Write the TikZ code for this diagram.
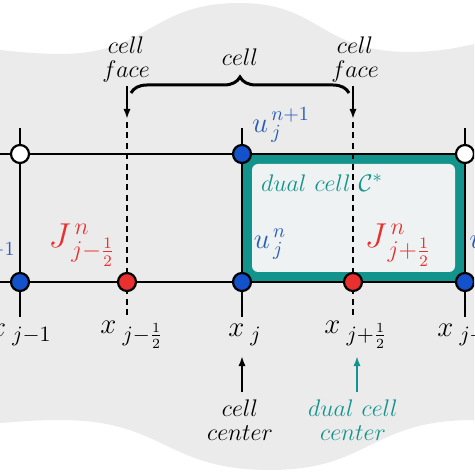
\documentclass[tikz,border=0pt]{standalone}
\usetikzlibrary{decorations.pathreplacing,arrows.meta}
\definecolor{bgc}{HTML}{EBEBEB}
\definecolor{innerc}{HTML}{EEF2F2}
\definecolor{tealc}{HTML}{12948C}
\definecolor{dotblue}{HTML}{1452CC}
\definecolor{lblblue}{HTML}{2A5CB8}
\definecolor{redc}{HTML}{E8302F}
\begin{document}
\begin{tikzpicture}[x=0.5pt,y=-0.5pt,
  gridline/.style={line width=1.3pt,black},
  facedash/.style={line width=1.3pt,black,dash pattern=on 3pt off 2.2pt},
  dot/.style={circle,draw=black,line width=1.1pt,minimum size=9pt,inner sep=0pt},
  lbl/.style={font=\fontsize{12.5}{12}\selectfont,inner sep=0pt,align=center},
  big/.style={font=\fontsize{15}{15}\selectfont,inner sep=0pt},
  jbig/.style={font=\fontsize{17}{17}\selectfont,inner sep=0pt},
  mid/.style={font=\fontsize{14.5}{15}\selectfont,inner sep=0pt},
  arr/.style={line width=1.3pt,-{Latex[length=5pt,width=3.6pt]}}]
\useasboundingbox (0,0) rectangle (474,474);
\clip (0,0) rectangle (474,474);
% background
\fill[bgc] (0,50) .. controls (20,52) and (40,54) .. (60,54)
  .. controls (150,54) and (150,3) .. (240,3)
  .. controls (320,3) and (320,52) .. (410,52)
  .. controls (440,52) and (460,47) .. (474,44)
  -- (474,420) .. controls (370,420) and (370,470) .. (270,470)
  .. controls (165,470) and (165,420) .. (60,420)
  .. controls (35,420) and (15,422) .. (0,423) -- cycle;
% dual cell
\fill[tealc] (242,154) rectangle (465,282);
\fill[innerc,rounded corners=3pt] (252,164) rectangle (455,272);
% coordinates
\coordinate (tl) at (0,154);  \coordinate (tr) at (474,154);
\coordinate (bl) at (0,282);  \coordinate (br) at (474,282);
\coordinate (v1t) at (20,128);  \coordinate (v1b) at (20,317);
\coordinate (v2t) at (242,128); \coordinate (v2b) at (242,317);
\coordinate (v3t) at (465,128); \coordinate (v3b) at (465,317);
\coordinate (d1t) at (127,122); \coordinate (d1b) at (127,317);
\coordinate (d2t) at (353,122); \coordinate (d2b) at (353,317);
\draw[gridline] (tl) -- (tr);
\draw[gridline] (bl) -- (br);
\draw[gridline] (v1t) -- (v1b);
\draw[gridline] (v2t) -- (v2b);
\draw[gridline] (v3t) -- (v3b);
\draw[facedash] (d1t) -- (d1b);
\draw[facedash] (d2t) -- (d2b);
% dots
\node[dot,fill=white] (n1t) at (20,154) {};
\node[dot,fill=dotblue] (n2t) at (242,154) {};
\node[dot,fill=white] (n3t) at (465,154) {};
\node[dot,fill=dotblue] (n1b) at (20,282) {};
\node[dot,fill=redc] (h1b) at (127,282) {};
\node[dot,fill=dotblue] (n2b) at (242,282) {};
\node[dot,fill=redc] (h2b) at (353,282) {};
\node[dot,fill=dotblue] (n3b) at (465,282) {};
% top labels
\node[lbl] (cf1) at (126,60) {$cell$\\$face$};
\node[lbl] (cf2) at (355,60) {$cell$\\$face$};
\node[lbl] (cl) at (240,57) {$cell$};
\coordinate (ar1s) at (127,86); \coordinate (ar1e) at (127,119);
\coordinate (ar2s) at (353,86); \coordinate (ar2e) at (353,119);
\draw[arr] (ar1s) -- (ar1e);
\draw[arr] (ar2s) -- (ar2e);
\coordinate (brl) at (131,93); \coordinate (brr) at (349,93);
\draw[line width=1.5pt,decorate,decoration={brace,amplitude=8pt}] (brl) -- (brr);
% field labels
\node[mid,text=lblblue] (unp) at (281,125) {$u^{\,n+1}_{\,j}$};
\node[lbl,font=\fontsize{12.3}{13}\selectfont,text=tealc] (dcl) at (322,183) {$dual\ cell\ \mathcal{C}^*$};
\node[mid,text=lblblue] (un) at (270,244) {$u^{\,n}_{\,j}$};
\node[jbig,text=redc] (jp) at (398,245) {$J^{\,n}_{\,j+\frac12}$};
\node[jbig,text=redc] (jm) at (82,245) {$J^{\,n}_{\,j-\frac12}$};
\node[mid,text=lblblue,anchor=east] (ul) at (16,244) {$u^{\,n}_{\,j-1}$};
\node[mid,text=lblblue,anchor=west] (ur) at (469,244) {$u^{\,n}_{\,j+1}$};
% x labels
\node[big,anchor=east] (x1) at (52,335) {$x_{\;j-1}$};
\node[big] (x2) at (132,335) {$x_{\;j-\frac12}$};
\node[big] (x3) at (245,335) {$x_{\;j}$};
\node[big] (x4) at (356,335) {$x_{\;j+\frac12}$};
\node[big,anchor=west] (x5) at (437,335) {$x_{\;j+1}$};
% bottom labels
\node[lbl] (cc) at (240,420) {$cell$\\$center$};
\node[lbl,text=tealc] (dcc) at (353,420) {$dual\ cell$\\$center$};
\coordinate (ac1s) at (242,392); \coordinate (ac1e) at (242,356);
\coordinate (ac2s) at (357,392); \coordinate (ac2e) at (357,356);
\draw[arr] (ac1s) -- (ac1e);
\draw[arr,tealc,line width=1pt] (ac2s) -- (ac2e);
\end{tikzpicture}
\end{document}
